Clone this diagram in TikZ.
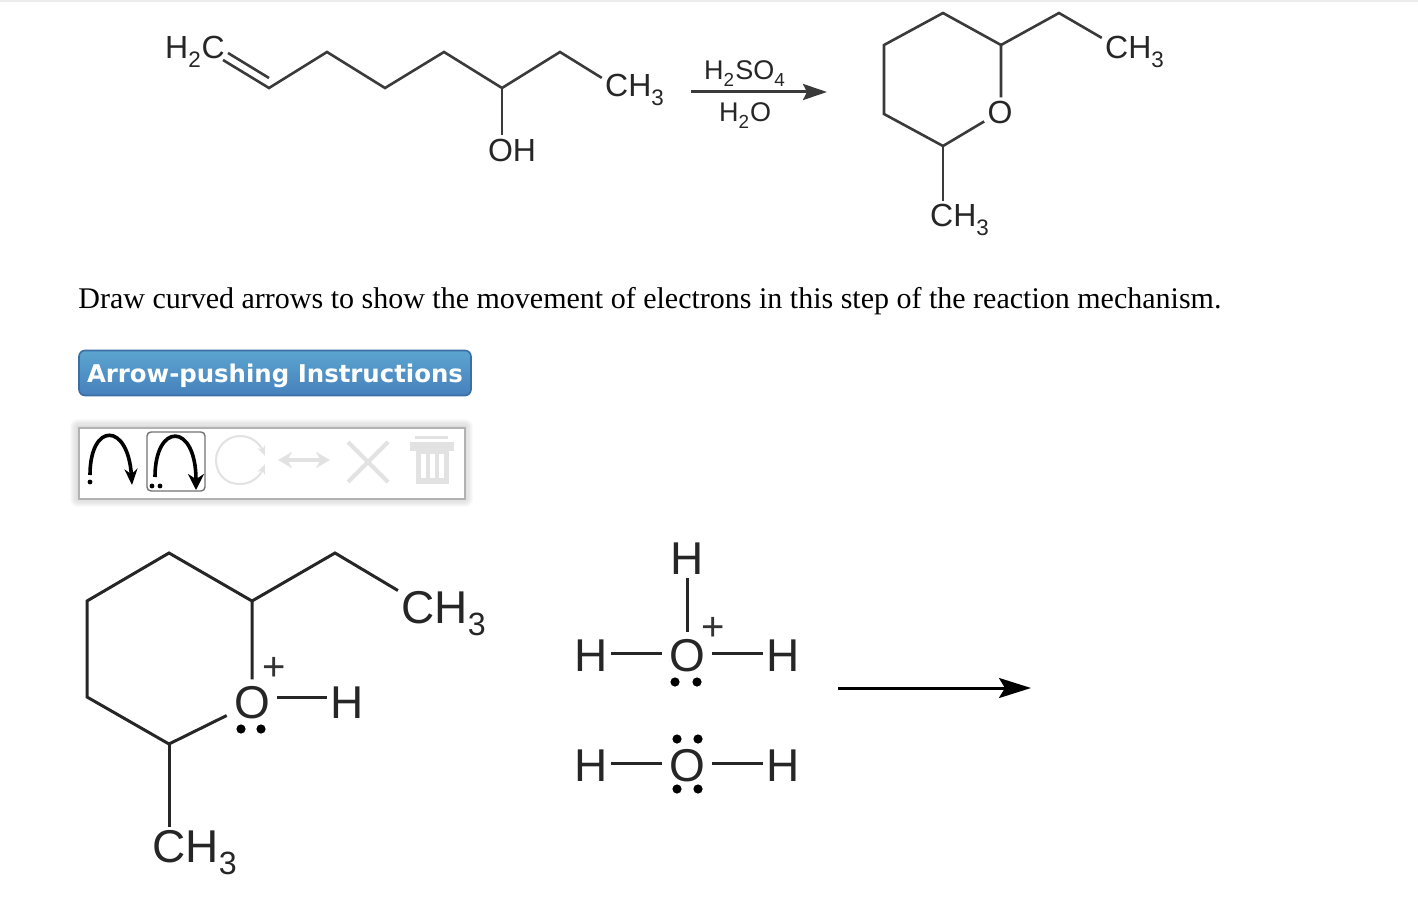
\documentclass[tikz,border=0pt]{standalone}
\usepackage{fontspec}
\setmainfont{Liberation Sans}
\newfontfamily\serifface{Liberation Serif}
\newfontfamily\btnface{DejaVu Sans}
\usetikzlibrary{calc,positioning,arrows.meta}
\definecolor{btntop}{HTML}{5CA5D0}
\definecolor{btnbot}{HTML}{4680BC}
\definecolor{btnedge}{HTML}{3A6EA5}
\definecolor{toolgrey}{HTML}{E2E2E2}
\definecolor{bondgrey}{HTML}{3A3A3A}
\newcommand{\sub}[1]{\raisebox{-0.1em}{\textsubscript{#1}}}
\begin{document}
\begin{tikzpicture}[x=0.5pt,y=-0.5pt,
  bond/.style={line width=1.3pt,color=bondgrey},
  bigbond/.style={line width=1.5pt,color=black!85},
  atom/.style={font=\fontsize{16}{16}\selectfont,inner sep=1.5pt,color=black!85},
  reagent/.style={font=\fontsize{13.5}{13.5}\selectfont,inner sep=1.5pt,color=black!85},
  bigatom/.style={font=\fontsize{23}{23}\selectfont,inner sep=1.5pt,color=black!85},
  bigoxy/.style={bigatom,inner sep=3.5pt},
  charge/.style={inner sep=0pt,font=\fontsize{20}{20}\selectfont,color=black!80},
  pt/.style={coordinate},
  ele/.style={fill=black,circle,minimum width=4.6pt,inner sep=0pt},
  rxn/.style={line width=1.5pt,-{Stealth[length=16pt,width=10pt,inset=3pt]}},
  ghost/.style={color=toolgrey,line width=2pt},
  icon/.style={line width=1.8pt,color=black}]
  \useasboundingbox (0,0) rectangle (1418,904);
  \fill[black!7] (0,0) rectangle (1418,2);

  \node[atom] (h2c) at (195,52) {H\sub{2}C};
  \node[pt] (d1) at (223,60) {};
  \node[pt] (d2) at (228,53) {};
  \node[pt] (d3) at (269,78) {};
  \node[pt] (c2) at (269,88) {};
  \node[pt] (c3) at (327,52) {};
  \node[pt] (c4) at (385,88) {};
  \node[pt] (c5) at (444,52) {};
  \node[pt] (c6) at (502,88) {};
  \node[pt] (c7) at (560,52) {};
  \node[atom] (ch3a) at (635,90) {CH\sub{3}};
  \node[atom] (oh) at (512,150) {OH};
  \draw[bond] (d1) -- (c2) -- (c3) -- (c4) -- (c5) -- (c6) -- (c7) -- (ch3a.160);
  \draw[bond] (d2) -- (d3);
  \draw[bond] (c6) -- (oh.north -| c6);

  \node[reagent] (acid) at (745,74) {H\sub{2}SO\sub{4}};
  \node[reagent] (water) at (745,116) {H\sub{2}O};
  \node[pt] (ra) at (691,92) {};
  \node[pt] (rb) at (827,92) {};
  \draw[rxn,color=bondgrey,-{Stealth[length=12pt,width=8pt,inset=2pt]}] (ra) -- (rb);

  \node[pt] (p1) at (943,13) {};
  \node[pt] (p2) at (1001,45) {};
  \node[atom] (po) at (1000,112) {O};
  \node[pt] (p3) at (943,146) {};
  \node[pt] (p4) at (884,114) {};
  \node[pt] (p5) at (884,45) {};
  \node[pt] (p6) at (1059,13) {};
  \node[atom] (ch3b) at (1135,52) {CH\sub{3}};
  \node[atom] (ch3c) at (960,220) {CH\sub{3}};
  \draw[bond] (p2 |- po.north) -- (p2) -- (p1) -- (p5) -- (p4) -- (p3) -- (po);
  \draw[bond] (p2) -- (p6) -- (ch3b.157);
  \draw[bond] (p3) -- (p3 |- ch3c.north);

  \node[anchor=west,inner sep=0pt,font=\serifface\fontsize{15}{15}\selectfont] (task) at (78,301) {Draw curved arrows to show the movement of electrons in this step of the reaction mechanism.};

  \node[draw=btnedge,line width=0.8pt,rounded corners=3pt,top color=btntop,bottom color=btnbot,text=white,font=\btnface\bfseries\fontsize{12.2}{12.2}\selectfont,minimum width=196pt,minimum height=22.5pt,inner sep=0pt,text height=9pt,text depth=0pt] (btn) at (275,373) {Arrow-pushing Instructions};

  \foreach \g in {1,...,7}
    \draw[black,opacity=0.02,line width=\g*1.2pt,line join=round] (78,427) rectangle (465,499);
  \fill[white] (78,427) rectangle (465,499);
  \draw[color=black!30,line width=1pt] (79,428) rectangle (465,499);
  \draw[color=black!55,line width=0.7pt,rounded corners=2pt] (147,432) rectangle (205,491);

  \draw[icon,-{Stealth[length=8pt,width=6.5pt]}] (90,475) .. controls (90,422) and (128,422) .. (132,485);
  \draw[icon,-{Stealth[length=8pt,width=8pt]}] (155,477) .. controls (155,422) and (196,422) .. (196,490);
  \fill (90,482) circle (1.2pt);
  \fill (152,486) circle (1.2pt);
  \fill (160,486) circle (1.2pt);

  \draw[ghost,line width=1pt,-{Stealth[length=5pt,width=4pt]}] (240,436) .. controls (252,436) and (260,444) .. (265,456);
  \draw[ghost,line width=1pt] (240,484) .. controls (222,484) and (216,470) .. (216,460) .. controls (216,448) and (226,436) .. (240,436);
  \draw[ghost,line width=1pt,-{Stealth[length=5pt,width=4pt]}] (240,484) .. controls (252,484) and (260,476) .. (265,464);
  \draw[ghost,{Stealth[length=7pt,width=8pt]}-{Stealth[length=7pt,width=8pt]}] (278,460) -- (330,460);
  \draw[ghost] (348,442) -- (388,482);
  \draw[ghost] (388,442) -- (348,482);
  \fill[toolgrey] (415,436) rectangle (448,439);
  \fill[toolgrey] (410,442) rectangle (454,451);
  \fill[toolgrey] (416,451) rectangle (449,484);
  \fill[white] (421,454) rectangle (426,478);
  \fill[white] (430,454) rectangle (435,478);
  \fill[white] (439,454) rectangle (444,478);

  \node[pt] (q1) at (169,553) {};
  \node[pt] (q2) at (252,601) {};
  \node[bigoxy] (qo) at (252,703) {O};
  \node[pt] (q3) at (169,744) {};
  \node[pt] (q4) at (87,697) {};
  \node[pt] (q5) at (87,601) {};
  \node[pt] (q6) at (335,553) {};
  \node[bigatom] (ch3d) at (444,614) {CH\sub{3}};
  \node[bigatom] (ch3e) at (195,853) {CH\sub{3}};
  \node[bigatom] (qh) at (347,703) {H};
  \node[charge] (qplus) at (274,669) {+};
  \node[ele] (qe1) at (241,729) {};
  \node[ele] (qe2) at (261,729) {};
  \draw[bigbond] (q2 |- qo.north) -- (q2) -- (q1) -- (q5) -- (q4) -- (q3) -- (qo);
  \draw[bigbond] (q2) -- (q6) -- (ch3d.153);
  \draw[bigbond] (q3) -- (q3 |- ch3e.north);
  \draw[bigbond] ([yshift=3pt]qo.east) -- ([yshift=3pt]qh.west);

  \node[bigoxy] (ot) at (687,656) {O};
  \node[bigatom] (ht) at (687,559) {H};
  \node[bigatom] (hl) at (591,656) {H};
  \node[bigatom] (hr) at (783,656) {H};
  \node[charge] (tplus) at (713,629) {+};
  \node[ele] (te1) at (675,682) {};
  \node[ele] (te2) at (697,682) {};
  \draw[bigbond] (ht) -- (ot);
  \draw[bigbond] ([yshift=1.5pt]hl.east) -- ([yshift=1.5pt]ot.west);
  \draw[bigbond] ([yshift=1.5pt]ot.east) -- ([yshift=1.5pt]hr.west);

  \node[bigoxy] (ow) at (687,766) {O};
  \node[bigatom] (wl) at (591,766) {H};
  \node[bigatom] (wr) at (783,766) {H};
  \node[ele] (we1) at (677,739) {};
  \node[ele] (we2) at (698,739) {};
  \node[ele] (we3) at (677,789) {};
  \node[ele] (we4) at (698,789) {};
  \draw[bigbond] ([yshift=1.5pt]wl.east) -- ([yshift=1.5pt]ow.west);
  \draw[bigbond] ([yshift=1.5pt]ow.east) -- ([yshift=1.5pt]wr.west);

  \node[pt] (sa) at (838,688) {};
  \node[pt] (sb) at (1031,688) {};
  \draw[rxn] (sa) -- (sb);
\end{tikzpicture}
\end{document}
